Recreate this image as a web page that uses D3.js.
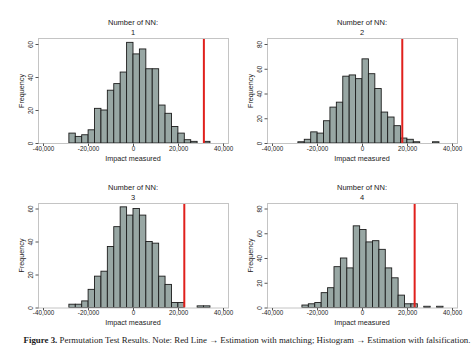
<!DOCTYPE html>
<html>
<head>
<meta charset="utf-8">
<script src="https://cdn.jsdelivr.net/npm/d3@7"></script>
<style>
  body { margin: 0; background: #fff; }
  svg { display: block; }
  text { font-family: "Liberation Sans", Arial, sans-serif; fill: #222; }
</style>
</head>
<body>
<div id="permutation"></div>
<script>
document.addEventListener('DOMContentLoaded', () => {

  // histogram counts per number of nearest neighbours (500 permutations each)
  const nnLabels = ['1', '2', '3', '4'];
  const binWidth = 2850;
  const binStarts = [-28500, -28500, -28500, -26700];
  const counts1 = [6, 4, 5, 8, 21, 20, 32, 36, 43, 61, 54, 57, 45, 45, 23, 18, 10, 6, 2, 1, 0, 1];
  const counts2 = [1, 3, 9, 8, 18, 29, 33, 54, 55, 52, 68, 56, 44, 25, 21, 14, 4, 3, 1, 0, 0, 1];
  const counts3 = [2, 2, 4, 11, 19, 22, 37, 49, 61, 56, 60, 56, 40, 39, 19, 14, 3, 3, 0, 0, 1, 1];
  const counts4 = [2, 3, 4, 12, 16, 33, 40, 32, 66, 63, 53, 54, 47, 32, 24, 10, 3, 3, 0, 1, 0, 1];
  const matchedEstimates = [31500, 17900, 22800, 23400];
  const yTicks = [[0, 20, 40, 60], [0, 20, 40, 60, 80], [0, 20, 40, 60], [0, 20, 40, 60, 80]];
  const xTicks = [-40000, -20000, 0, 20000, 40000];

  const allCounts = [counts1, counts2, counts3, counts4];

  const width = 474;
  const height = 345;

  const svg = d3.select('#permutation')
                .append('svg')
                .attr('width', width)
                .attr('height', height);

  // plot boxes: left/right/top and the y pixel of zero
  const boxes = [
    { x0: 38, x1: 228, top: 38, zero: 143 },
    { x0: 267, x1: 457, top: 38, zero: 143 },
    { x0: 38, x1: 228, top: 203, zero: 307.5 },
    { x0: 267, x1: 457, top: 203, zero: 307.5 }
  ];

  const fmt = (d) => d3.format(',')(d).replace('\u2212', '-');

  boxes.forEach((b, i) => {
    const g = svg.append('g');
    const counts = allCounts[i];
    const ticks = yTicks[i];

    const x = d3.scaleLinear()
                .domain([-40000, 40000])
                .range([b.x0 + 5, b.x1 - 5]);

    const y = d3.scaleLinear()
                .domain([0, d3.max(ticks)])
                .range([b.zero, b.zero - 99]);

    // bars
    g.selectAll('rect.bar')
     .data(counts.map((c, k) => ({ lo: binStarts[i] + k * binWidth, count: c })).filter(d => d.count > 0))
     .join('rect')
     .attr('class', 'bar')
     .attr('x', d => x(d.lo))
     .attr('width', d => x(d.lo + binWidth) - x(d.lo))
     .attr('y', d => y(d.count))
     .attr('height', d => y(0) - y(d.count))
     .attr('fill', '#98a7a4')
     .attr('stroke', '#1c1c1c')
     .attr('stroke-width', 0.9);

    // estimate from the matching
    g.append('line')
     .attr('x1', x(matchedEstimates[i]))
     .attr('x2', x(matchedEstimates[i]))
     .attr('y1', b.top)
     .attr('y2', b.zero)
     .attr('stroke', '#e0201c')
     .attr('stroke-width', 2);

    // plot region outline
    g.append('rect')
     .attr('x', b.x0 + 0.5)
     .attr('y', b.top + 0.5)
     .attr('width', b.x1 - b.x0)
     .attr('height', b.zero - b.top)
     .attr('fill', 'none')
     .attr('stroke', '#c4c4c4')
     .attr('stroke-width', 1);

    const xAxis = d3.axisBottom(x)
                    .tickValues(xTicks)
                    .tickFormat(fmt)
                    .tickSize(2.5)
                    .tickPadding(0.5);

    const gx = g.append('g')
                .attr('transform', 'translate(0,' + (b.zero + 0.5) + ')')
                .call(xAxis);
    gx.select('.domain').remove();
    gx.selectAll('line').attr('stroke', '#555');
    gx.selectAll('text')
      .attr('font-size', '6.3px')
      .attr('font-family', '"Liberation Sans", Arial, sans-serif')
      .attr('fill', '#222');

    const yAxis = d3.axisLeft(y)
                    .tickValues(ticks)
                    .tickSize(3);

    const gy = g.append('g')
                .attr('transform', 'translate(' + (b.x0 + 0.5) + ',0)')
                .call(yAxis);
    gy.select('.domain').remove();
    gy.selectAll('line').attr('stroke', '#555');
    gy.selectAll('text')
      .attr('x', null)
      .attr('dy', null)
      .attr('text-anchor', 'middle')
      .attr('transform', 'translate(-5.5,0) rotate(-90)')
      .attr('font-size', '6.3px')
      .attr('font-family', '"Liberation Sans", Arial, sans-serif')
      .attr('fill', '#222');

    const cx = (b.x0 + b.x1) / 2;

    // axis titles
    g.append('text')
     .attr('x', cx)
     .attr('y', b.zero + 17.5)
     .attr('text-anchor', 'middle')
     .attr('font-size', '7.2px')
     .text('Impact measured');

    g.append('text')
     .attr('transform', 'translate(' + (b.x0 - 14.5) + ',' + (b.zero - 52) + ') rotate(-90)')
     .attr('text-anchor', 'middle')
     .attr('font-size', '7.2px')
     .text('Frequency');

    // panel title
    g.append('text')
     .attr('x', cx)
     .attr('y', b.top - 13)
     .attr('text-anchor', 'middle')
     .attr('font-size', '7.5px')
     .text('Number of NN:');

    g.append('text')
     .attr('x', cx)
     .attr('y', b.top - 3)
     .attr('text-anchor', 'middle')
     .attr('font-size', '7.5px')
     .text(nnLabels[i]);
  });

  // figure caption
  const caption = svg.append('text')
                     .attr('x', 23.5)
                     .attr('y', 342.5)
                     .attr('textLength', 447)
                     .attr('lengthAdjust', 'spacingAndGlyphs')
                     .style('font-family', '"Liberation Serif", "Times New Roman", serif')
                     .style('font-size', '8.6px')
                     .style('fill', '#1a1a1a');

  caption.append('tspan')
         .style('font-weight', 'bold')
         .text('Figure 3.');

  caption.append('tspan')
         .text(' Permutation Test Results. Note: Red Line \u2192 Estimation with matching; Histogram \u2192 Estimation with falsification.');

});
</script>
</body>
</html>
